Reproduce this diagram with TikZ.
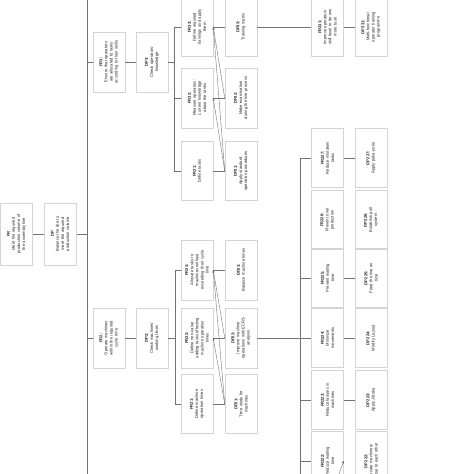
\documentclass[tikz,border=0pt]{standalone}
\usepackage{fontspec}
\setmainfont{Liberation Sans}
\usetikzlibrary{arrows.meta}
\begin{document}
\begin{tikzpicture}[x=1pt,y=-1pt,
  bx/.style={draw=black!17, line width=0.5pt, rotate=90, minimum height=32pt,
    inner sep=0.8pt, align=center, text=black!85, text width=57pt,
    font=\fontsize{4.15}{5.1}\selectfont},
  conn/.style={draw=black!55, line width=0.75pt},
  cpl/.style={draw=black!60, line width=0.35pt, -{Stealth[length=2.6pt,width=2pt]}}]
\useasboundingbox (0,0) rectangle (474,474);
\fill[white] (0,0) rectangle (474,474);

% top level
\node[bx,minimum width=62pt] (FR) at (16.5,234) {\textbf{FR}\\Meet the required\\production volume of\\the assembly line};
\node[bx,minimum width=62pt] (DP) at (60.5,234) {\textbf{DP}\\Balance the line to\\meet the required\\production volume};

% level 1
\node[bx,minimum width=60pt] (FR3) at (109,62) {\textbf{FR3:}\\Ensure that operators\\are allocated to tasks\\according to their skills};
\node[bx,minimum width=60pt] (DP3) at (152,62) {\textbf{DP3:}\\Check operators'\\knowledge};
\node[bx,minimum width=60pt] (FR2) at (109,338) {\textbf{FR2:}\\Operate machines\\within the required\\cycle time};
\node[bx,minimum width=60pt] (DP2) at (152,338) {\textbf{DP2:}\\Check machines'\\working times};

% FR3 branch
\node[bx,minimum width=58pt] (FR33) at (197,27) {\textbf{FR33:}\\Define required\\trainings and apply\\them};
\node[bx,minimum width=58pt] (DP33) at (241,27) {\textbf{DP33:}\\Training matrix};
\node[bx,minimum width=60pt] (FR32) at (197,98) {\textbf{FR32:}\\Measure operators'\\current knowledge\\about the tasks};
\node[bx,minimum width=60pt] (DP32) at (241,98) {\textbf{DP32:}\\Make examination\\during the line process};
\node[bx,minimum width=56pt] (FR31) at (197,171) {\textbf{FR31:}\\Define tasks};
\node[bx,minimum width=56pt] (DP31) at (241,171) {\textbf{DP31:}\\Apply standard\\operation procedures};
\node[bx,minimum width=58pt] (FR331) at (327.5,27) {\textbf{FR331:}\\Improve operators'\\skill level to do one\\more task};
\node[bx,minimum width=58pt] (DP331) at (371,27) {\textbf{DP331:}\\Multi-functional\\operator training\\programme};

% FR2 branch
\node[bx,minimum width=60pt] (FR23) at (197,270) {\textbf{FR23:}\\Allocate tasks to\\machines without\\exceeding their cycle\\time};
\node[bx,minimum width=60pt] (DP23) at (241,270) {\textbf{DP23:}\\Balance machine times};
\node[bx,minimum width=60pt] (FR22) at (197,338) {\textbf{FR22:}\\Define non-value\\adding tasks effecting\\machine operation\\times};
\node[bx,minimum width=60pt] (DP22) at (241,338) {\textbf{DP22:}\\Improve machine\\operations with ECRS\\analysis};
\node[bx,minimum width=54pt] (FR21) at (197,404) {\textbf{FR21:}\\Define machine\\operation times};
\node[bx,minimum width=54pt] (DP21) at (241,404) {\textbf{DP21:}\\Time study for\\machines};

% FR22 branch
\node[bx,minimum width=51pt] (FR227) at (327.5,158) {\textbf{FR227:}\\Reduce mistaken\\tasks};
\node[bx,minimum width=51pt] (DP227) at (371,158) {\textbf{DP227:}\\Apply poka-yoke};
\node[bx,minimum width=54pt] (FR226) at (327.5,220) {\textbf{FR226:}\\Prevent over\\production};
\node[bx,minimum width=54pt] (DP226) at (371,220) {\textbf{DP226:}\\Establish pull\\system};
\node[bx,minimum width=51pt] (FR225) at (327.5,278) {\textbf{FR225:}\\Prevent waiting\\time};
\node[bx,minimum width=51pt] (DP225) at (371,278) {\textbf{DP225:}\\Feed the line on\\time};
\node[bx,minimum width=52pt] (FR224) at (327.5,338) {\textbf{FR224:}\\Minimize\\movements};
\node[bx,minimum width=52pt] (DP224) at (371,338) {\textbf{DP224:}\\Modify Layout};
\node[bx,minimum width=51pt] (FR223) at (327.5,400) {\textbf{FR223:}\\Reduce failures in\\machines};
\node[bx,minimum width=51pt] (DP223) at (371,400) {\textbf{DP223:}\\Apply Jidoka};
\node[bx,minimum width=52pt] (FR222) at (327.5,461) {\textbf{FR222:}\\Reduce waiting\\time};
\node[bx,minimum width=52pt] (DP222) at (371,461) {\textbf{DP222:}\\Locate machinery\\close to each other};

% coordinates on trunk lines
\coordinate (tTop) at (87,0);
\coordinate (tBot) at (87,474);
\coordinate (tDP) at (87,234);
\coordinate (t3) at (87,62);
\coordinate (t2) at (87,338);
\coordinate (a3top) at (174,27);
\coordinate (a3mid) at (174,62);
\coordinate (a32) at (174,98);
\coordinate (a3bot) at (174,171);
\coordinate (a2top) at (175,270);
\coordinate (a2mid) at (175,338);
\coordinate (a2bot) at (175,404);
\coordinate (bTop) at (300,158);
\coordinate (b225) at (300,278);
\coordinate (b22) at (300,338);
\coordinate (b223) at (300,400);
\coordinate (b222) at (300,461);
\coordinate (bBot) at (300,474);
\coordinate (cIn) at (339,474);

% connectors
\draw[conn] (FR) -- (DP);
\draw[conn] (DP) -- (tDP);
\draw[conn] (tTop) -- (tBot);
\draw[conn] (t3) -- (FR3);
\draw[conn] (t2) -- (FR2);
\draw[conn] (FR3) -- (DP3);
\draw[conn] (FR2) -- (DP2);

\draw[conn] (DP3) -- (a3mid);
\draw[conn] (a3top) -- (a3bot);
\draw[conn] (a3top) -- (FR33);
\draw[conn] (a32) -- (FR32);
\draw[conn] (a3bot) -- (FR31);
\draw[conn] (FR33) -- (DP33);
\draw[conn] (FR32) -- (DP32);
\draw[conn] (FR31) -- (DP31);
\draw[conn] (DP33) -- (FR331);
\draw[conn] (FR331) -- (DP331);

\draw[conn] (DP2) -- (a2mid);
\draw[conn] (a2top) -- (a2bot);
\draw[conn] (a2top) -- (FR23);
\draw[conn] (a2bot) -- (FR21);
\draw[conn] (FR23) -- (DP23);
\draw[conn] (FR22) -- (DP22);
\draw[conn] (FR21) -- (DP21);

\draw[conn] (DP22) -- (b22);
\draw[conn] (bTop) -- (bBot);
\draw[conn] (bTop) -- (FR227);
\draw[conn] (b225) -- (FR225);
\draw[conn] (b22) -- (FR224);
\draw[conn] (b223) -- (FR223);
\draw[conn] (b222) -- (FR222);
\draw[conn] (FR227) -- (DP227);
\draw[conn] (FR225) -- (DP225);
\draw[conn] (FR224) -- (DP224);
\draw[conn] (FR223) -- (DP223);

% coupling arrows
\draw[cpl] (DP31.north) -- (FR32.south);
\draw[cpl] (DP31.north) -- (FR33.south);
\draw[cpl] (DP32.north) -- (FR33.south);
\draw[cpl] (DP21.north) -- (FR22.south);
\draw[cpl] (DP21.north) -- (FR23.south);
\draw[cpl] (DP22.north) -- (FR23.south);
\draw[cpl] (cIn) -- (FR222.south);
\end{tikzpicture}
\end{document}
